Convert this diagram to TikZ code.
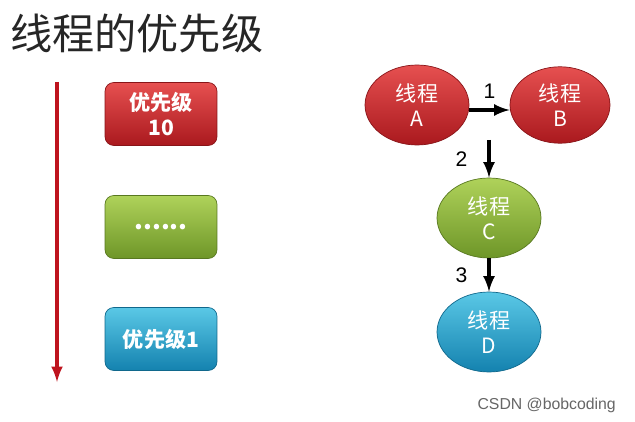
\documentclass[tikz,border=0pt]{standalone}
\usepackage{fontspec}
\setmainfont{Liberation Sans}
\newfontfamily\cjk{Noto Sans CJK SC}
\usetikzlibrary{shapes.geometric}
\definecolor{redA}{RGB}{230,80,80}
\definecolor{redB}{RGB}{170,25,30}
\definecolor{grnA}{RGB}{175,210,90}
\definecolor{grnB}{RGB}{110,150,40}
\definecolor{bluA}{RGB}{90,200,230}
\definecolor{bluB}{RGB}{20,130,175}
\definecolor{arrred}{RGB}{190,20,30}
\tikzset{
  prio/.style={rounded corners=5pt, minimum width=2.24cm, minimum height=1.26cm,
    text=white, font=\cjk\bfseries\large, align=center, draw=#1B!80!black, top color=#1A, bottom color=#1B},
  thread/.style={ellipse, minimum width=2.08cm, minimum height=1.6cm, text=white,
    font=\cjk\large, align=center, draw=#1B!80!black, top color=#1A, bottom color=#1B},
  flow/.style={-latex, line width=2pt},
  num/.style={font=\large}
}
\begin{document}
\begin{tikzpicture}[x=0.02cm,y=-0.02cm]
\useasboundingbox (0,0) rectangle (635,422);
\node[anchor=west, font=\cjk\fontsize{24}{28}\selectfont, text=black!85] (title) at (4,33) {线程的优先级};
\coordinate (top) at (57,82);
\coordinate (bot) at (57,382);
\draw[-latex, line width=2pt, arrred] (top) -- (bot);
\node[prio=red] (p10) at (161,114) {优先级\\10};
\node[prio=grn] (pdots) at (161,227) {\Large\bfseries ......};
\node[prio=blu] (p1) at (161,339) {优先级1};
\node[thread=red] (ta) at (417,105) {线程\\A};
\node[thread=red, minimum width=2cm, minimum height=1.48cm] (tb) at (560,105) {线程\\B};
\node[thread=grn] (tc) at (489,218) {线程\\C};
\node[thread=blu] (td) at (489,332) {线程\\D};
\coordinate (s2) at (489,140);
\draw[flow] (ta.east |- 0,110) -- (tb.west |- 0,110) node[num, midway, above=2pt] {1};
\draw[flow] (s2) -- (tc.north) node[num, midway, left=8pt] {2};
\draw[flow] (tc.south) -- (td.north) node[num, midway, left=8pt] {3};
\node[anchor=east, font=\small, text=black!60] (mark) at (622,405) {CSDN @bobcoding};
\end{tikzpicture}
\end{document}
